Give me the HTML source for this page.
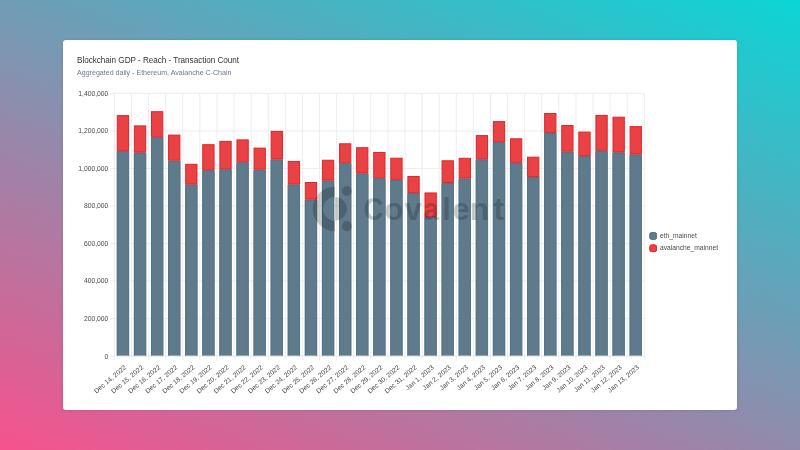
<!DOCTYPE html>
<html><head><meta charset="utf-8"><style>
html,body{margin:0;padding:0}
body{width:800px;height:450px;position:relative;overflow:hidden;background:linear-gradient(23deg,#f6528c 0%,#0bd5d5 100%);font-family:"Liberation Sans", Arial, sans-serif}
.card{position:absolute;left:63px;top:40px;width:674px;height:370px;background:#fff;border-radius:3px;box-shadow:0 0 3px rgba(30,50,80,.2)}
.t{position:absolute;left:77px;top:56px;font-size:8.15px;letter-spacing:-0.02px;color:#333;white-space:nowrap;line-height:10px}
.s{position:absolute;left:77px;top:68.6px;font-size:7.08px;color:#6b7a8f;white-space:nowrap;line-height:9px}
svg{position:absolute;left:0;top:0;will-change:transform}
.t,.s{will-change:transform}
.yl{font-size:6.75px;fill:#4a4a4a}
.xl{font-size:6.65px;fill:#444}
.lg{font-size:6.7px;fill:#4a4a4a}
.wm{font-size:31px;font-weight:bold;font-family:"Liberation Sans",sans-serif}
</style></head><body>
<div class="card"></div>
<div class="t">Blockchain GDP - Reach - Transaction Count</div>
<div class="s">Aggregated daily - Ethereum, Avalanche C-Chain</div>
<svg width="800" height="450" viewBox="0 0 800 450">
<line x1="109.8" y1="93.4" x2="644.3" y2="93.4" stroke="#ededed" stroke-width="1"/>
<text x="108.3" y="93.85" text-anchor="end" dominant-baseline="middle" class="yl">1,400,000</text>
<line x1="109.8" y1="130.91" x2="644.3" y2="130.91" stroke="#ededed" stroke-width="1"/>
<text x="108.3" y="131.36" text-anchor="end" dominant-baseline="middle" class="yl">1,200,000</text>
<line x1="109.8" y1="168.43" x2="644.3" y2="168.43" stroke="#ededed" stroke-width="1"/>
<text x="108.3" y="168.88" text-anchor="end" dominant-baseline="middle" class="yl">1,000,000</text>
<line x1="109.8" y1="205.94" x2="644.3" y2="205.94" stroke="#ededed" stroke-width="1"/>
<text x="108.3" y="206.39" text-anchor="end" dominant-baseline="middle" class="yl">800,000</text>
<line x1="109.8" y1="243.46" x2="644.3" y2="243.46" stroke="#ededed" stroke-width="1"/>
<text x="108.3" y="243.91" text-anchor="end" dominant-baseline="middle" class="yl">600,000</text>
<line x1="109.8" y1="280.97" x2="644.3" y2="280.97" stroke="#ededed" stroke-width="1"/>
<text x="108.3" y="281.42" text-anchor="end" dominant-baseline="middle" class="yl">400,000</text>
<line x1="109.8" y1="318.49" x2="644.3" y2="318.49" stroke="#ededed" stroke-width="1"/>
<text x="108.3" y="318.94" text-anchor="end" dominant-baseline="middle" class="yl">200,000</text>
<line x1="109.8" y1="356.0" x2="644.3" y2="356.0" stroke="#ededed" stroke-width="1"/>
<text x="108.3" y="356.95" text-anchor="end" dominant-baseline="middle" class="yl">0</text>
<line x1="114.4" y1="93.4" x2="114.4" y2="360.6" stroke="#ededed" stroke-width="1"/>
<line x1="131.49" y1="93.4" x2="131.49" y2="360.6" stroke="#ededed" stroke-width="1"/>
<line x1="148.59" y1="93.4" x2="148.59" y2="360.6" stroke="#ededed" stroke-width="1"/>
<line x1="165.68" y1="93.4" x2="165.68" y2="360.6" stroke="#ededed" stroke-width="1"/>
<line x1="182.77" y1="93.4" x2="182.77" y2="360.6" stroke="#ededed" stroke-width="1"/>
<line x1="199.87" y1="93.4" x2="199.87" y2="360.6" stroke="#ededed" stroke-width="1"/>
<line x1="216.96" y1="93.4" x2="216.96" y2="360.6" stroke="#ededed" stroke-width="1"/>
<line x1="234.05" y1="93.4" x2="234.05" y2="360.6" stroke="#ededed" stroke-width="1"/>
<line x1="251.15" y1="93.4" x2="251.15" y2="360.6" stroke="#ededed" stroke-width="1"/>
<line x1="268.24" y1="93.4" x2="268.24" y2="360.6" stroke="#ededed" stroke-width="1"/>
<line x1="285.34" y1="93.4" x2="285.34" y2="360.6" stroke="#ededed" stroke-width="1"/>
<line x1="302.43" y1="93.4" x2="302.43" y2="360.6" stroke="#ededed" stroke-width="1"/>
<line x1="319.52" y1="93.4" x2="319.52" y2="360.6" stroke="#ededed" stroke-width="1"/>
<line x1="336.62" y1="93.4" x2="336.62" y2="360.6" stroke="#ededed" stroke-width="1"/>
<line x1="353.71" y1="93.4" x2="353.71" y2="360.6" stroke="#ededed" stroke-width="1"/>
<line x1="370.8" y1="93.4" x2="370.8" y2="360.6" stroke="#ededed" stroke-width="1"/>
<line x1="387.9" y1="93.4" x2="387.9" y2="360.6" stroke="#ededed" stroke-width="1"/>
<line x1="404.99" y1="93.4" x2="404.99" y2="360.6" stroke="#ededed" stroke-width="1"/>
<line x1="422.08" y1="93.4" x2="422.08" y2="360.6" stroke="#ededed" stroke-width="1"/>
<line x1="439.18" y1="93.4" x2="439.18" y2="360.6" stroke="#ededed" stroke-width="1"/>
<line x1="456.27" y1="93.4" x2="456.27" y2="360.6" stroke="#ededed" stroke-width="1"/>
<line x1="473.36" y1="93.4" x2="473.36" y2="360.6" stroke="#ededed" stroke-width="1"/>
<line x1="490.46" y1="93.4" x2="490.46" y2="360.6" stroke="#ededed" stroke-width="1"/>
<line x1="507.55" y1="93.4" x2="507.55" y2="360.6" stroke="#ededed" stroke-width="1"/>
<line x1="524.65" y1="93.4" x2="524.65" y2="360.6" stroke="#ededed" stroke-width="1"/>
<line x1="541.74" y1="93.4" x2="541.74" y2="360.6" stroke="#ededed" stroke-width="1"/>
<line x1="558.83" y1="93.4" x2="558.83" y2="360.6" stroke="#ededed" stroke-width="1"/>
<line x1="575.93" y1="93.4" x2="575.93" y2="360.6" stroke="#ededed" stroke-width="1"/>
<line x1="593.02" y1="93.4" x2="593.02" y2="360.6" stroke="#ededed" stroke-width="1"/>
<line x1="610.11" y1="93.4" x2="610.11" y2="360.6" stroke="#ededed" stroke-width="1"/>
<line x1="627.21" y1="93.4" x2="627.21" y2="360.6" stroke="#ededed" stroke-width="1"/>
<line x1="644.3" y1="93.4" x2="644.3" y2="360.6" stroke="#ededed" stroke-width="1"/>
<rect x="116.79" y="151.20" width="12.31" height="204.50" fill="#5f7a8b"/>
<path d="M117.29,355.7 V151.70 H128.60" fill="none" stroke="#4f748c" stroke-width="1"/>
<path d="M128.60,151.70 V355.7" fill="none" stroke="#587689" stroke-width="1"/>
<rect x="117.29" y="115.60" width="11.31" height="35.10" fill="#e84244" stroke="#e3242a" stroke-width="1"/>
<rect x="133.89" y="152.70" width="12.31" height="203.00" fill="#5f7a8b"/>
<path d="M134.39,355.7 V153.20 H145.69" fill="none" stroke="#4f748c" stroke-width="1"/>
<path d="M145.69,153.20 V355.7" fill="none" stroke="#587689" stroke-width="1"/>
<rect x="134.39" y="125.90" width="11.31" height="26.30" fill="#e84244" stroke="#e3242a" stroke-width="1"/>
<rect x="150.98" y="137.30" width="12.31" height="218.40" fill="#5f7a8b"/>
<path d="M151.48,355.7 V137.80 H162.79" fill="none" stroke="#4f748c" stroke-width="1"/>
<path d="M162.79,137.80 V355.7" fill="none" stroke="#587689" stroke-width="1"/>
<rect x="151.48" y="111.70" width="11.31" height="25.10" fill="#e84244" stroke="#e3242a" stroke-width="1"/>
<rect x="168.07" y="160.70" width="12.31" height="195.00" fill="#5f7a8b"/>
<path d="M168.57,355.7 V161.20 H179.88" fill="none" stroke="#4f748c" stroke-width="1"/>
<path d="M179.88,161.20 V355.7" fill="none" stroke="#587689" stroke-width="1"/>
<rect x="168.57" y="135.10" width="11.31" height="25.10" fill="#e84244" stroke="#e3242a" stroke-width="1"/>
<rect x="185.17" y="184.60" width="12.31" height="171.10" fill="#5f7a8b"/>
<path d="M185.67,355.7 V185.10 H196.97" fill="none" stroke="#4f748c" stroke-width="1"/>
<path d="M196.97,185.10 V355.7" fill="none" stroke="#587689" stroke-width="1"/>
<rect x="185.67" y="164.30" width="11.31" height="19.80" fill="#e84244" stroke="#e3242a" stroke-width="1"/>
<rect x="202.26" y="170.20" width="12.31" height="185.50" fill="#5f7a8b"/>
<path d="M202.76,355.7 V170.70 H214.07" fill="none" stroke="#4f748c" stroke-width="1"/>
<path d="M214.07,170.70 V355.7" fill="none" stroke="#587689" stroke-width="1"/>
<rect x="202.76" y="144.70" width="11.31" height="25.00" fill="#e84244" stroke="#e3242a" stroke-width="1"/>
<rect x="219.35" y="169.25" width="12.31" height="186.45" fill="#5f7a8b"/>
<path d="M219.85,355.7 V169.75 H231.16" fill="none" stroke="#4f748c" stroke-width="1"/>
<path d="M231.16,169.75 V355.7" fill="none" stroke="#587689" stroke-width="1"/>
<rect x="219.85" y="141.40" width="11.31" height="27.35" fill="#e84244" stroke="#e3242a" stroke-width="1"/>
<rect x="236.45" y="162.35" width="12.31" height="193.35" fill="#5f7a8b"/>
<path d="M236.95,355.7 V162.85 H248.26" fill="none" stroke="#4f748c" stroke-width="1"/>
<path d="M248.26,162.85 V355.7" fill="none" stroke="#587689" stroke-width="1"/>
<rect x="236.95" y="139.90" width="11.31" height="21.95" fill="#e84244" stroke="#e3242a" stroke-width="1"/>
<rect x="253.54" y="169.65" width="12.31" height="186.05" fill="#5f7a8b"/>
<path d="M254.04,355.7 V170.15 H265.35" fill="none" stroke="#4f748c" stroke-width="1"/>
<path d="M265.35,170.15 V355.7" fill="none" stroke="#587689" stroke-width="1"/>
<rect x="254.04" y="148.10" width="11.31" height="21.05" fill="#e84244" stroke="#e3242a" stroke-width="1"/>
<rect x="270.64" y="159.55" width="12.31" height="196.15" fill="#5f7a8b"/>
<path d="M271.14,355.7 V160.05 H282.44" fill="none" stroke="#4f748c" stroke-width="1"/>
<path d="M282.44,160.05 V355.7" fill="none" stroke="#587689" stroke-width="1"/>
<rect x="271.14" y="131.40" width="11.31" height="27.65" fill="#e84244" stroke="#e3242a" stroke-width="1"/>
<rect x="287.73" y="184.50" width="12.31" height="171.20" fill="#5f7a8b"/>
<path d="M288.23,355.7 V185.00 H299.54" fill="none" stroke="#4f748c" stroke-width="1"/>
<path d="M299.54,185.00 V355.7" fill="none" stroke="#587689" stroke-width="1"/>
<rect x="288.23" y="161.45" width="11.31" height="22.55" fill="#e84244" stroke="#e3242a" stroke-width="1"/>
<rect x="304.82" y="199.60" width="12.31" height="156.10" fill="#5f7a8b"/>
<path d="M305.32,355.7 V200.10 H316.63" fill="none" stroke="#4f748c" stroke-width="1"/>
<path d="M316.63,200.10 V355.7" fill="none" stroke="#587689" stroke-width="1"/>
<rect x="305.32" y="182.50" width="11.31" height="16.60" fill="#e84244" stroke="#e3242a" stroke-width="1"/>
<rect x="321.92" y="180.60" width="12.31" height="175.10" fill="#5f7a8b"/>
<path d="M322.42,355.7 V181.10 H333.72" fill="none" stroke="#4f748c" stroke-width="1"/>
<path d="M333.72,181.10 V355.7" fill="none" stroke="#587689" stroke-width="1"/>
<rect x="322.42" y="160.25" width="11.31" height="19.85" fill="#e84244" stroke="#e3242a" stroke-width="1"/>
<rect x="339.01" y="163.35" width="12.31" height="192.35" fill="#5f7a8b"/>
<path d="M339.51,355.7 V163.85 H350.82" fill="none" stroke="#4f748c" stroke-width="1"/>
<path d="M350.82,163.85 V355.7" fill="none" stroke="#587689" stroke-width="1"/>
<rect x="339.51" y="143.80" width="11.31" height="19.05" fill="#e84244" stroke="#e3242a" stroke-width="1"/>
<rect x="356.10" y="173.50" width="12.31" height="182.20" fill="#5f7a8b"/>
<path d="M356.60,355.7 V174.00 H367.91" fill="none" stroke="#4f748c" stroke-width="1"/>
<path d="M367.91,174.00 V355.7" fill="none" stroke="#587689" stroke-width="1"/>
<rect x="356.60" y="147.70" width="11.31" height="25.30" fill="#e84244" stroke="#e3242a" stroke-width="1"/>
<rect x="373.20" y="178.30" width="12.31" height="177.40" fill="#5f7a8b"/>
<path d="M373.70,355.7 V178.80 H385.00" fill="none" stroke="#4f748c" stroke-width="1"/>
<path d="M385.00,178.80 V355.7" fill="none" stroke="#587689" stroke-width="1"/>
<rect x="373.70" y="152.50" width="11.31" height="25.30" fill="#e84244" stroke="#e3242a" stroke-width="1"/>
<rect x="390.29" y="179.85" width="12.31" height="175.85" fill="#5f7a8b"/>
<path d="M390.79,355.7 V180.35 H402.10" fill="none" stroke="#4f748c" stroke-width="1"/>
<path d="M402.10,180.35 V355.7" fill="none" stroke="#587689" stroke-width="1"/>
<rect x="390.79" y="158.20" width="11.31" height="21.15" fill="#e84244" stroke="#e3242a" stroke-width="1"/>
<rect x="407.38" y="193.15" width="12.31" height="162.55" fill="#5f7a8b"/>
<path d="M407.88,355.7 V193.65 H419.19" fill="none" stroke="#4f748c" stroke-width="1"/>
<path d="M419.19,193.65 V355.7" fill="none" stroke="#587689" stroke-width="1"/>
<rect x="407.88" y="176.45" width="11.31" height="16.20" fill="#e84244" stroke="#e3242a" stroke-width="1"/>
<rect x="424.48" y="217.00" width="12.31" height="138.70" fill="#5f7a8b"/>
<path d="M424.98,355.7 V217.50 H436.28" fill="none" stroke="#4f748c" stroke-width="1"/>
<path d="M436.28,217.50 V355.7" fill="none" stroke="#587689" stroke-width="1"/>
<rect x="424.98" y="192.95" width="11.31" height="23.55" fill="#e84244" stroke="#e3242a" stroke-width="1"/>
<rect x="441.57" y="182.95" width="12.31" height="172.75" fill="#5f7a8b"/>
<path d="M442.07,355.7 V183.45 H453.38" fill="none" stroke="#4f748c" stroke-width="1"/>
<path d="M453.38,183.45 V355.7" fill="none" stroke="#587689" stroke-width="1"/>
<rect x="442.07" y="160.80" width="11.31" height="21.65" fill="#e84244" stroke="#e3242a" stroke-width="1"/>
<rect x="458.66" y="178.55" width="12.31" height="177.15" fill="#5f7a8b"/>
<path d="M459.16,355.7 V179.05 H470.47" fill="none" stroke="#4f748c" stroke-width="1"/>
<path d="M470.47,179.05 V355.7" fill="none" stroke="#587689" stroke-width="1"/>
<rect x="459.16" y="158.30" width="11.31" height="19.75" fill="#e84244" stroke="#e3242a" stroke-width="1"/>
<rect x="475.76" y="159.40" width="12.31" height="196.30" fill="#5f7a8b"/>
<path d="M476.26,355.7 V159.90 H487.56" fill="none" stroke="#4f748c" stroke-width="1"/>
<path d="M487.56,159.90 V355.7" fill="none" stroke="#587689" stroke-width="1"/>
<rect x="476.26" y="135.60" width="11.31" height="23.30" fill="#e84244" stroke="#e3242a" stroke-width="1"/>
<rect x="492.85" y="142.20" width="12.31" height="213.50" fill="#5f7a8b"/>
<path d="M493.35,355.7 V142.70 H504.66" fill="none" stroke="#4f748c" stroke-width="1"/>
<path d="M504.66,142.70 V355.7" fill="none" stroke="#587689" stroke-width="1"/>
<rect x="493.35" y="121.60" width="11.31" height="20.10" fill="#e84244" stroke="#e3242a" stroke-width="1"/>
<rect x="509.94" y="162.80" width="12.31" height="192.90" fill="#5f7a8b"/>
<path d="M510.44,355.7 V163.30 H521.75" fill="none" stroke="#4f748c" stroke-width="1"/>
<path d="M521.75,163.30 V355.7" fill="none" stroke="#587689" stroke-width="1"/>
<rect x="510.44" y="138.80" width="11.31" height="23.50" fill="#e84244" stroke="#e3242a" stroke-width="1"/>
<rect x="527.04" y="177.10" width="12.31" height="178.60" fill="#5f7a8b"/>
<path d="M527.54,355.7 V177.60 H538.85" fill="none" stroke="#4f748c" stroke-width="1"/>
<path d="M538.85,177.60 V355.7" fill="none" stroke="#587689" stroke-width="1"/>
<rect x="527.54" y="157.20" width="11.31" height="19.40" fill="#e84244" stroke="#e3242a" stroke-width="1"/>
<rect x="544.13" y="132.90" width="12.31" height="222.80" fill="#5f7a8b"/>
<path d="M544.63,355.7 V133.40 H555.94" fill="none" stroke="#4f748c" stroke-width="1"/>
<path d="M555.94,133.40 V355.7" fill="none" stroke="#587689" stroke-width="1"/>
<rect x="544.63" y="113.50" width="11.31" height="18.90" fill="#e84244" stroke="#e3242a" stroke-width="1"/>
<rect x="561.23" y="151.70" width="12.31" height="204.00" fill="#5f7a8b"/>
<path d="M561.73,355.7 V152.20 H573.03" fill="none" stroke="#4f748c" stroke-width="1"/>
<path d="M573.03,152.20 V355.7" fill="none" stroke="#587689" stroke-width="1"/>
<rect x="561.73" y="125.50" width="11.31" height="25.70" fill="#e84244" stroke="#e3242a" stroke-width="1"/>
<rect x="578.32" y="156.15" width="12.31" height="199.55" fill="#5f7a8b"/>
<path d="M578.82,355.7 V156.65 H590.13" fill="none" stroke="#4f748c" stroke-width="1"/>
<path d="M590.13,156.65 V355.7" fill="none" stroke="#587689" stroke-width="1"/>
<rect x="578.82" y="132.10" width="11.31" height="23.55" fill="#e84244" stroke="#e3242a" stroke-width="1"/>
<rect x="595.41" y="150.80" width="12.31" height="204.90" fill="#5f7a8b"/>
<path d="M595.91,355.7 V151.30 H607.22" fill="none" stroke="#4f748c" stroke-width="1"/>
<path d="M607.22,151.30 V355.7" fill="none" stroke="#587689" stroke-width="1"/>
<rect x="595.91" y="115.40" width="11.31" height="34.90" fill="#e84244" stroke="#e3242a" stroke-width="1"/>
<rect x="612.51" y="152.40" width="12.31" height="203.30" fill="#5f7a8b"/>
<path d="M613.01,355.7 V152.90 H624.31" fill="none" stroke="#4f748c" stroke-width="1"/>
<path d="M624.31,152.90 V355.7" fill="none" stroke="#587689" stroke-width="1"/>
<rect x="613.01" y="117.20" width="11.31" height="34.70" fill="#e84244" stroke="#e3242a" stroke-width="1"/>
<rect x="629.60" y="154.60" width="12.31" height="201.10" fill="#5f7a8b"/>
<path d="M630.10,355.7 V155.10 H641.41" fill="none" stroke="#4f748c" stroke-width="1"/>
<path d="M641.41,155.10 V355.7" fill="none" stroke="#587689" stroke-width="1"/>
<rect x="630.10" y="126.60" width="11.31" height="27.50" fill="#e84244" stroke="#e3242a" stroke-width="1"/>
<line x1="109.8" y1="356.4" x2="644.3" y2="356.4" stroke="#ededed" stroke-width="1"/>
<text transform="translate(125.55,366.9) rotate(-40)" text-anchor="end" dominant-baseline="middle" class="xl">Dec 14, 2022</text>
<text transform="translate(142.64,366.9) rotate(-40)" text-anchor="end" dominant-baseline="middle" class="xl">Dec 15, 2022</text>
<text transform="translate(159.73,366.9) rotate(-40)" text-anchor="end" dominant-baseline="middle" class="xl">Dec 16, 2022</text>
<text transform="translate(176.83,366.9) rotate(-40)" text-anchor="end" dominant-baseline="middle" class="xl">Dec 17, 2022</text>
<text transform="translate(193.92,366.9) rotate(-40)" text-anchor="end" dominant-baseline="middle" class="xl">Dec 18, 2022</text>
<text transform="translate(211.01,366.9) rotate(-40)" text-anchor="end" dominant-baseline="middle" class="xl">Dec 19, 2022</text>
<text transform="translate(228.11,366.9) rotate(-40)" text-anchor="end" dominant-baseline="middle" class="xl">Dec 20, 2022</text>
<text transform="translate(245.20,366.9) rotate(-40)" text-anchor="end" dominant-baseline="middle" class="xl">Dec 21, 2022</text>
<text transform="translate(262.30,366.9) rotate(-40)" text-anchor="end" dominant-baseline="middle" class="xl">Dec 22, 2022</text>
<text transform="translate(279.39,366.9) rotate(-40)" text-anchor="end" dominant-baseline="middle" class="xl">Dec 23, 2022</text>
<text transform="translate(296.48,366.9) rotate(-40)" text-anchor="end" dominant-baseline="middle" class="xl">Dec 24, 2022</text>
<text transform="translate(313.58,366.9) rotate(-40)" text-anchor="end" dominant-baseline="middle" class="xl">Dec 25, 2022</text>
<text transform="translate(330.67,366.9) rotate(-40)" text-anchor="end" dominant-baseline="middle" class="xl">Dec 26, 2022</text>
<text transform="translate(347.76,366.9) rotate(-40)" text-anchor="end" dominant-baseline="middle" class="xl">Dec 27, 2022</text>
<text transform="translate(364.86,366.9) rotate(-40)" text-anchor="end" dominant-baseline="middle" class="xl">Dec 28, 2022</text>
<text transform="translate(381.95,366.9) rotate(-40)" text-anchor="end" dominant-baseline="middle" class="xl">Dec 29, 2022</text>
<text transform="translate(399.04,366.9) rotate(-40)" text-anchor="end" dominant-baseline="middle" class="xl">Dec 30, 2022</text>
<text transform="translate(416.14,366.9) rotate(-40)" text-anchor="end" dominant-baseline="middle" class="xl">Dec 31, 2022</text>
<text transform="translate(433.23,366.9) rotate(-40)" text-anchor="end" dominant-baseline="middle" class="xl">Jan 1, 2023</text>
<text transform="translate(450.32,366.9) rotate(-40)" text-anchor="end" dominant-baseline="middle" class="xl">Jan 2, 2023</text>
<text transform="translate(467.42,366.9) rotate(-40)" text-anchor="end" dominant-baseline="middle" class="xl">Jan 3, 2023</text>
<text transform="translate(484.51,366.9) rotate(-40)" text-anchor="end" dominant-baseline="middle" class="xl">Jan 4, 2023</text>
<text transform="translate(501.60,366.9) rotate(-40)" text-anchor="end" dominant-baseline="middle" class="xl">Jan 5, 2023</text>
<text transform="translate(518.70,366.9) rotate(-40)" text-anchor="end" dominant-baseline="middle" class="xl">Jan 6, 2023</text>
<text transform="translate(535.79,366.9) rotate(-40)" text-anchor="end" dominant-baseline="middle" class="xl">Jan 7, 2023</text>
<text transform="translate(552.89,366.9) rotate(-40)" text-anchor="end" dominant-baseline="middle" class="xl">Jan 8, 2023</text>
<text transform="translate(569.98,366.9) rotate(-40)" text-anchor="end" dominant-baseline="middle" class="xl">Jan 9, 2023</text>
<text transform="translate(587.07,366.9) rotate(-40)" text-anchor="end" dominant-baseline="middle" class="xl">Jan 10, 2023</text>
<text transform="translate(604.17,366.9) rotate(-40)" text-anchor="end" dominant-baseline="middle" class="xl">Jan 11, 2023</text>
<text transform="translate(621.26,366.9) rotate(-40)" text-anchor="end" dominant-baseline="middle" class="xl">Jan 12, 2023</text>
<text transform="translate(638.35,366.9) rotate(-40)" text-anchor="end" dominant-baseline="middle" class="xl">Jan 13, 2023</text>
<rect x="649.7" y="232.5" width="6.9" height="6.9" rx="1.9" fill="#5f7a8b" stroke="#4f748c" stroke-width="1"/>
<text x="660" y="236.3" dominant-baseline="middle" class="lg">eth_mainnet</text>
<rect x="649.7" y="244.8" width="6.9" height="6.9" rx="1.9" fill="#e84244" stroke="#e3242a" stroke-width="1"/>
<text x="660" y="248.5" dominant-baseline="middle" class="lg">avalanche_mainnet</text>
<g opacity="0.19"><path d="M335.0,186.5 A22.3,22.3 0 0 0 335.0,231.10000000000002 L335.0,220.60000000000002 A11.8,11.8 0 0 1 335.0,197.0 Z M335.0,197.0 A11.8,11.8 0 0 1 335.0,220.60000000000002 Z" fill="#000"/><circle cx="346.9" cy="191.0" r="5.1" fill="#000"/><circle cx="346.9" cy="226.2" r="5.1" fill="#000"/><text transform="translate(363.42,219.8) scale(0.885,1)" class="wm">C</text><text transform="translate(384.28,219.8) scale(1.02,1)" class="wm">o</text><text transform="translate(404.60,219.8) scale(1.01,1)" class="wm">v</text><text transform="translate(423.50,219.8) scale(0.9,1)" class="wm">a</text><text transform="translate(442.20,219.8) scale(1.0,1)" class="wm">l</text><text transform="translate(452.40,219.8) scale(1.0,1)" class="wm">e</text><text transform="translate(469.42,219.8) scale(1.04,1)" class="wm">n</text><text transform="translate(493.30,219.8) scale(1.07,1)" class="wm">t</text></g>
</svg>
</body></html>
